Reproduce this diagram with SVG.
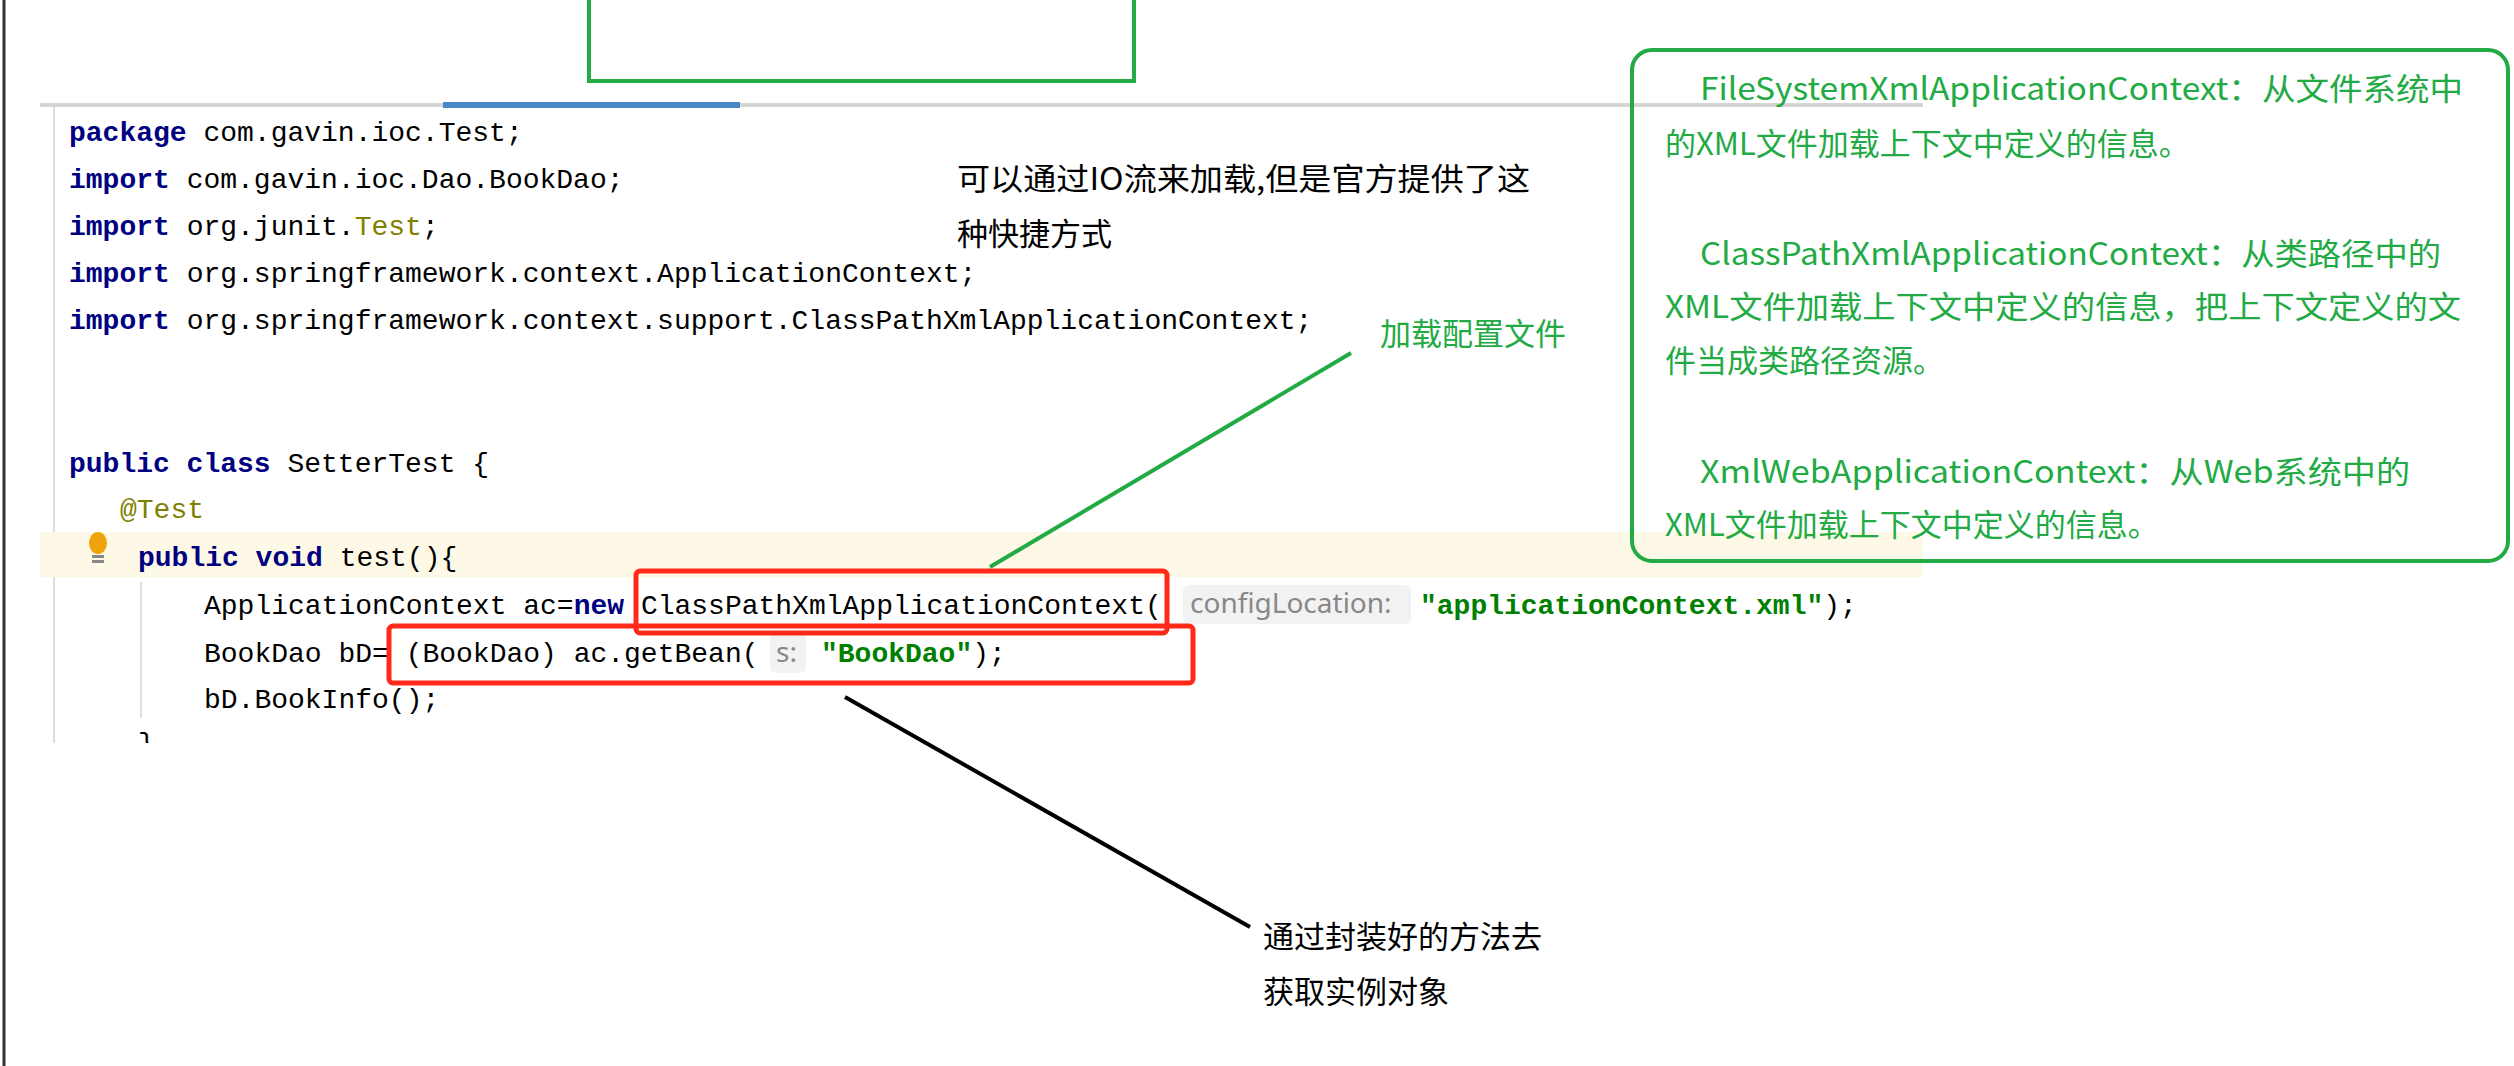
<svg xmlns="http://www.w3.org/2000/svg" width="2514" height="1066" viewBox="0 0 2514 1066">
<style>
.c{font-family:"Liberation Mono",monospace;font-size:28px;fill:#000}
.k{fill:#000080;font-weight:bold}
.o{fill:#808000}
.s{fill:#008000;font-weight:bold}
.h{font-family:"Noto Sans","Noto Sans CJK SC",sans-serif;font-size:28px;fill:#888}
.cn{font-family:"Noto Sans CJK SC","Noto Sans",sans-serif;font-size:31px}
.g{fill:#22aa44}
.red{fill:none;stroke:#ff2a1a;stroke-width:5}
</style>
<defs><clipPath id="ed"><rect x="0" y="0" width="2514" height="743"/></clipPath></defs>
<rect width="2514" height="1066" fill="#fff"/>
<g id="editor">
<line x1="4" y1="0" x2="4" y2="1066" stroke="#333" stroke-width="3"/>
<line x1="40" y1="105" x2="1923" y2="105" stroke="#d5d5d5" stroke-width="4"/>
<line x1="443" y1="105" x2="740" y2="105" stroke="#4a88c7" stroke-width="6"/>
<line x1="54" y1="107" x2="54" y2="743" stroke="#dcdcdc" stroke-width="2"/>
<line x1="141" y1="582" x2="141" y2="718" stroke="#e0e0e0" stroke-width="2"/>
<rect x="40" y="532" width="1883" height="45" fill="#fdf9e6"/>
<ellipse cx="98" cy="543" rx="9" ry="11" fill="#f0a30a"/>
<rect x="92" y="555" width="12" height="3" fill="#888"/><rect x="92" y="560" width="12" height="3" fill="#888"/>
<text class="c" x="69" y="141"><tspan class="k">package</tspan> com.gavin.ioc.Test;</text>
<text class="c" x="69" y="188"><tspan class="k">import</tspan> com.gavin.ioc.Dao.BookDao;</text>
<text class="c" x="69" y="235"><tspan class="k">import</tspan> org.junit.<tspan class="o">Test</tspan>;</text>
<text class="c" x="69" y="282"><tspan class="k">import</tspan> org.springframework.context.ApplicationContext;</text>
<text class="c" x="69" y="329"><tspan class="k">import</tspan> org.springframework.context.support.ClassPathXmlApplicationContext;</text>
<text class="c" x="69" y="472"><tspan class="k">public class</tspan> SetterTest {</text>
<text class="c o" x="120" y="518">@Test</text>
<text class="c" x="138" y="566"><tspan class="k">public void</tspan> test(){</text>
<text class="c" x="204" y="614">ApplicationContext ac=<tspan class="k">new</tspan> ClassPathXmlApplicationContext(</text>
<rect x="1183" y="585" width="228" height="39" rx="6" fill="#f2f2f2"/>
<text class="h" x="1190" y="613">configLocation:</text>
<text class="c" x="1420" y="614"><tspan class="s">"applicationContext.xml"</tspan>);</text>
<text class="c" x="204" y="662">BookDao bD= (BookDao) ac.getBean(</text>
<rect x="770" y="634" width="36" height="39" rx="6" fill="#f2f2f2"/>
<text class="h" x="776" y="662">s:</text>
<text class="c" x="821" y="662"><tspan class="s">"BookDao"</tspan>);</text>
<text class="c" x="204" y="708">bD.BookInfo();</text>
<text class="c" x="138" y="752" clip-path="url(#ed)">}</text>
</g>
<g id="top-box"><rect x="589" y="-5" width="545" height="86" fill="none" stroke="#22aa44" stroke-width="4"/></g>
<g id="red-boxes">
<rect class="red" x="636" y="571" width="531" height="62" rx="4"/>
<rect class="red" x="389" y="626" width="804" height="57" rx="4"/>
</g>
<g id="info-box">
<rect x="1632" y="50" width="876" height="511" rx="20" fill="none" stroke="#22aa44" stroke-width="4"/>
<text class="cn g" x="1700" y="100" textLength="763" lengthAdjust="spacingAndGlyphs">FileSystemXmlApplicationContext：从文件系统中</text>
<text class="cn g" x="1665" y="155">的XML文件加载上下文中定义的信息。</text>
<text class="cn g" x="1700" y="265" textLength="741" lengthAdjust="spacingAndGlyphs">ClassPathXmlApplicationContext：从类路径中的</text>
<text class="cn g" x="1665" y="318" textLength="796" lengthAdjust="spacingAndGlyphs">XML文件加载上下文中定义的信息，把上下文定义的文</text>
<text class="cn g" x="1665" y="372">件当成类路径资源。</text>
<text class="cn g" x="1700" y="483" textLength="710" lengthAdjust="spacingAndGlyphs">XmlWebApplicationContext：从Web系统中的</text>
<text class="cn g" x="1665" y="536">XML文件加载上下文中定义的信息。</text>
</g>
<g id="notes">
<text class="cn" x="957" y="190" textLength="573" lengthAdjust="spacingAndGlyphs">可以通过IO流来加载,但是官方提供了这</text>
<text class="cn" x="957" y="245">种快捷方式</text>
<text class="cn g" x="1380" y="345">加载配置文件</text>
<text class="cn" x="1263" y="948">通过封装好的方法去</text>
<text class="cn" x="1263" y="1003">获取实例对象</text>
</g>
<g id="connectors">
<line x1="990" y1="567" x2="1351" y2="353" stroke="#22aa44" stroke-width="4"/>
<line x1="845" y1="697" x2="1250" y2="927" stroke="#000" stroke-width="4"/>
</g>
</svg>
